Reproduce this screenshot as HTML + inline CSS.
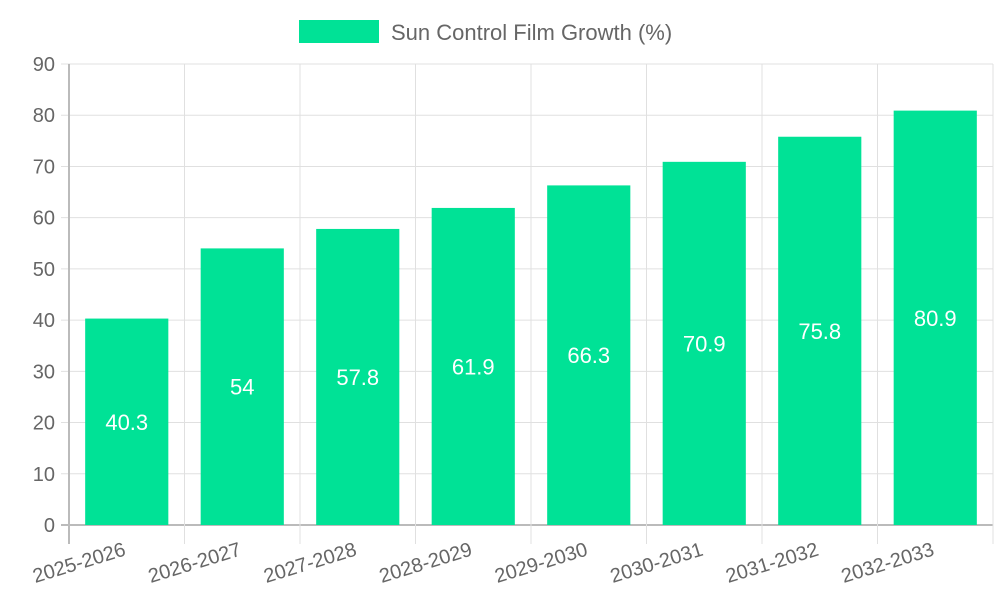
<!DOCTYPE html>
<html><head><meta charset="utf-8"><style>body{margin:0;background:#fff}svg{font-family:"Liberation Sans",sans-serif}</style></head>
<body>
<svg id="c" width="1000" height="600">
<g><rect x="299" y="20" width="80" height="23" fill="#00e296"/><text x="391" y="40" font-size="22" fill="#666">Sun Control Film Growth (%)</text></g>
</svg>
<script>
const categories=["2025-2026","2026-2027","2027-2028","2028-2029","2029-2030","2030-2031","2031-2032","2032-2033"];
const values=[40.3,54,57.8,61.9,66.3,70.9,75.8,80.9];
const yTicks=[0,10,20,30,40,50,60,70,80,90];
const svg=document.getElementById('c');const NS='http://www.w3.org/2000/svg';
const L=69,R=993,T=64,B=525,yMax=90;
const band=(R-L)/categories.length;
const y=v=>B-(v/yMax)*(B-T);
const x=i=>L+i*band;
function mk(t,a,p){const e=document.createElementNS(NS,t);for(const k in a)e.setAttribute(k,a[k]);(p||svg).appendChild(e);return e;}
const grid=mk('g',{});


yTicks.forEach(t=>{const l=mk('line',{x1:L-8,x2:R,y1:y(t),y2:y(t),stroke:t===0?'#bbb':'#e0e0e0','stroke-width':t===0?2:1},grid);


const tx=mk('text',{x:L-14,y:y(t)+7,'text-anchor':'end','font-size':20,fill:'#666'});tx.textContent=t;

});
for(let i=0;i<=categories.length;i++){const l=mk('line',{x1:x(i),x2:x(i),y1:T,y2:B+19,stroke:i===0?'#bbb':'#e0e0e0','stroke-width':i===0?2:1},grid);

}
categories.forEach((c,i)=>{const cx=x(i)+band/2,bw=band*0.72;
const r=mk('rect',{x:cx-bw/2,y:y(values[i]),width:bw,height:B-y(values[i]),fill:'#00e296'});


const v=mk('text',{x:cx,y:(y(values[i])+B)/2+8,'text-anchor':'middle','font-size':22,fill:'#fff'});v.textContent=values[i];


const t=mk('text',{x:cx,y:B+30,'text-anchor':'end','font-size':20,fill:'#666',transform:`rotate(-17 ${cx} ${B+30})`});t.textContent=c;

});
</script>
</body></html>
